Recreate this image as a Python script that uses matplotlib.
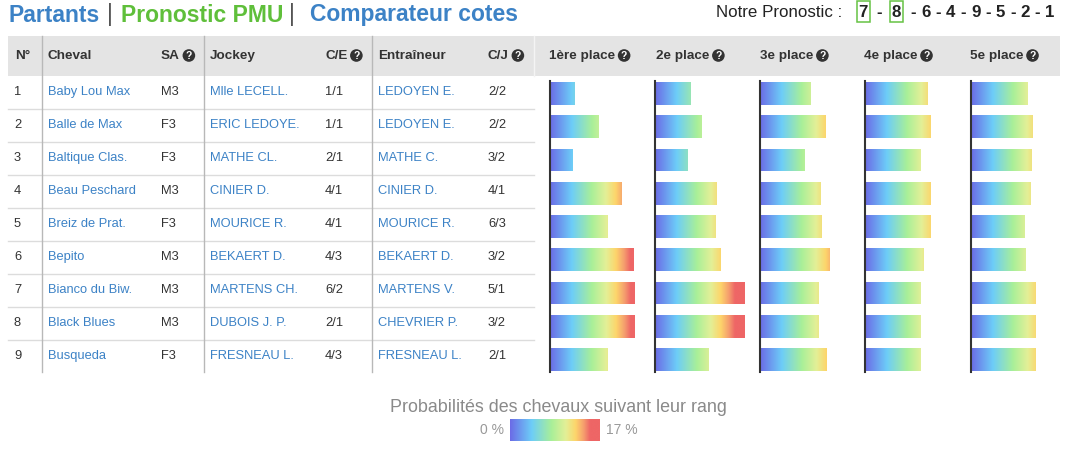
import numpy as np
import matplotlib
matplotlib.use('Agg')
import matplotlib.pyplot as plt
from matplotlib.colors import LinearSegmentedColormap
from matplotlib.patches import Rectangle, Circle

plt.rcParams['font.family'] = ['Liberation Sans', 'DejaVu Sans']

# table data
numeros = ['1', '2', '3', '4', '5', '6', '7', '8', '9']
chevaux = ['Baby Lou Max', 'Balle de Max', 'Baltique Clas.', 'Beau Peschard', 'Breiz de Prat.',
           'Bepito', 'Bianco du Biw.', 'Black Blues', 'Busqueda']
sexe_age = ['M3', 'F3', 'F3', 'M3', 'F3', 'M3', 'M3', 'M3', 'F3']
jockeys = ['Mlle LECELL.', 'ERIC LEDOYE.', 'MATHE CL.', 'CINIER D.', 'MOURICE R.',
           'BEKAERT D.', 'MARTENS CH.', 'DUBOIS J. P.', 'FRESNEAU L.']
courses_ecurie = ['1/1', '1/1', '2/1', '4/1', '4/1', '4/3', '6/2', '2/1', '4/3']
entraineurs = ['LEDOYEN E.', 'LEDOYEN E.', 'MATHE C.', 'CINIER D.', 'MOURICE R.',
               'BEKAERT D.', 'MARTENS V.', 'CHEVRIER P.', 'FRESNEAU L.']
courses_jockey = ['2/2', '2/2', '3/2', '4/1', '6/3', '3/2', '5/1', '3/2', '2/1']

# probabilities (%) per finishing place
places = ['1ère place', '2e place', '3e place', '4e place', '5e place']
proba_1 = [4.7, 9.1, 4.2, 13.6, 10.8, 15.8, 15.9, 15.9, 10.9]
proba_2 = [6.8, 8.7, 6.2, 11.7, 11.5, 12.3, 17.0, 17.0, 10.1]
proba_3 = [9.6, 12.4, 8.5, 11.5, 11.7, 13.2, 11.1, 11.1, 12.5]
proba_4 = [11.8, 12.3, 10.5, 12.3, 12.3, 11.0, 10.4, 10.4, 10.4]
proba_5 = [10.6, 11.7, 11.5, 11.2, 10.1, 10.2, 12.1, 12.1, 12.1]
probas = [proba_1, proba_2, proba_3, proba_4, proba_5]
vmin, vmax = 0, 17

pronostic = ['7', '8', '6', '4', '9', '5', '2', '1']

W, H = 1068, 449
BLUE = '#3c82c6'
GREEN = '#5fbf3a'
DARK = '#333333'

cmap = LinearSegmentedColormap.from_list('proba', [
    (0.0, '#6b6be6'), (0.24, '#6dcdf8'), (0.46, '#a8ef99'), (0.62, '#e3f097'),
    (0.73, '#fdd56b'), (0.82, '#f59f6e'), (0.89, '#ee6666'), (1.0, '#ee6666')])

fig = plt.figure(figsize=(W / 100, H / 100), dpi=100)
ax = fig.add_axes([0, 0, 1, 1])
ax.set_xlim(0, W)
ax.set_ylim(H, 0)
ax.axis('off')

# title line
ax.text(9, 21.5, 'Partants', color=BLUE, fontsize=16.5, fontweight='bold', va='baseline')
ax.text(107, 21.5, '|', color='#555555', fontsize=16.5, va='baseline')
ax.text(121, 21.5, 'Pronostic PMU', color=GREEN, fontsize=16.5, fontweight='bold', va='baseline')
ax.text(289, 21.5, '|', color='#555555', fontsize=16.5, va='baseline')
ax.text(310, 21.5, 'Comparateur cotes', color=BLUE, fontsize=16.5, fontweight='bold', va='baseline')

# pronostic
ax.text(716, 17.3, 'Notre Pronostic :', color='#222222', fontsize=12.2, va='baseline')
for cx, d in zip([863, 896], pronostic[:2]):
    ax.add_patch(Rectangle((cx - 6.5, 1), 13, 21, fill=False, edgecolor='#66c244', lw=1.1))
    ax.text(cx, 17.3, d, color='#222222', fontsize=12.2, fontweight='bold', ha='center', va='baseline')
ax.text(879.5, 17.3, '-', color='#222222', fontsize=12.2, fontweight='bold', ha='center', va='baseline')
for k, d in enumerate(pronostic[2:]):
    ax.text(913.5 + 24.8 * k, 17.3, '-', color='#222222', fontsize=12.2, fontweight='bold',
            ha='center', va='baseline')
    ax.text(926 + 24.8 * k, 17.3, d, color='#222222', fontsize=12.2, fontweight='bold',
            ha='center', va='baseline')

# table header band
ax.add_patch(Rectangle((8, 36), 1052, 40, color='#e4e4e4', lw=0))
ax.plot([534, 534], [36, 76], color='#f4f4f4', lw=1)

renderer = fig.canvas.get_renderer()
inv = ax.transData.inverted()


def header(x, label, icon=False):
    t = ax.text(x, 56, label, color=DARK, fontsize=9.7, fontweight='bold', va='center')
    if icon:
        bb = t.get_window_extent(renderer=renderer)
        right = inv.transform((bb.x1, bb.y0))[0]
        cx = right + 9
        ax.add_patch(Circle((cx, 55.5), 6.3, color=DARK, lw=0))
        ax.text(cx, 55.8, '?', color='white', fontsize=7.5, fontweight='bold', ha='center', va='center')


header(15, 'N°')
header(48, 'Cheval')
header(161, 'SA', True)
header(210, 'Jockey')
header(325, 'C/E', True)
header(378, 'Entraîneur')
header(488, 'C/J', True)
for x0, p in zip([549, 656, 760, 864, 970], places):
    header(x0, p, True)

# table grid
for i in range(8):
    y = 108.5 + 33 * i
    ax.plot([8, 534], [y, y], color='#dcdcdc', lw=1)
for x in [41.5, 203.5, 371.5]:
    ax.plot([x, x], [36, 372], color='#b8b8b8', lw=1)

# table body
for i in range(len(chevaux)):
    y = 92 + 33 * i
    ax.text(14, y, numeros[i], color=DARK, fontsize=9.3, va='center')
    ax.text(48, y, chevaux[i], color=BLUE, fontsize=9.3, va='center')
    ax.text(161, y, sexe_age[i], color=DARK, fontsize=9.3, va='center')
    ax.text(210, y, jockeys[i], color=BLUE, fontsize=9.3, va='center')
    ax.text(325, y, courses_ecurie[i], color=DARK, fontsize=9.3, va='center')
    ax.text(378, y, entraineurs[i], color=BLUE, fontsize=9.3, va='center')
    ax.text(488, y, courses_jockey[i], color=DARK, fontsize=9.3, va='center')

# gradient bars, one small axes per place
grad = np.linspace(vmin, vmax, 256).reshape(1, -1)
top_px, row_px = 76.65, 33.3
for x0, vals in zip([550, 655, 760, 865, 971], probas):
    bax = fig.add_axes([x0 / W, 1 - (top_px + 9 * row_px) / H, 90 / W, 9 * row_px / H])
    bax.set_xlim(vmin, vmax)
    bax.set_ylim(9, 0)
    ypos = np.arange(len(vals)) + 0.5
    bars = bax.barh(ypos, vals, height=0.68, color='none', lw=0)
    for b in bars:
        im = bax.imshow(grad, cmap=cmap, vmin=vmin, vmax=vmax, aspect='auto',
                        extent=[vmin, vmax, 9, 0], interpolation='bilinear')
        im.set_clip_path(b)
    bax.set_xlim(vmin, vmax)
    bax.set_ylim(9, 0)
    for s in ['top', 'right', 'bottom']:
        bax.spines[s].set_visible(False)
    bax.spines['left'].set_color(DARK)
    bax.spines['left'].set_linewidth(1.5)
    bax.spines['left'].set_bounds(0.13, 8.86)
    bax.set_xticks([])
    bax.set_yticks([])
    bax.patch.set_alpha(0)

# legend
ax.text(558, 411.5, 'Probabilités des chevaux suivant leur rang', color='#8a8a8a',
        fontsize=12.9, ha='center', va='baseline')
ax.imshow(grad, cmap=cmap, aspect='auto', extent=[510, 600, 441, 419], interpolation='bilinear')
ax.set_xlim(0, W)
ax.set_ylim(H, 0)
ax.text(504, 430, '0 %', color='#999999', fontsize=10, ha='right', va='center')
ax.text(606, 430, '17 %', color='#999999', fontsize=10, ha='left', va='center')

fig.savefig('out.png', dpi=100)
plt.close(fig)
